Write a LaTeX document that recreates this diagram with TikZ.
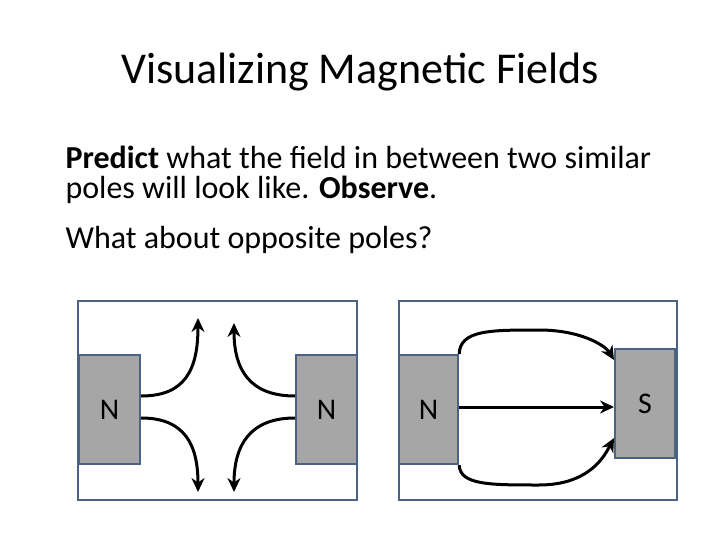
\documentclass[tikz,border=0pt]{standalone}
\usepackage{fontspec}
\setmainfont{Carlito}
\usetikzlibrary{arrows.meta}
\definecolor{edge}{HTML}{4A6283}
\definecolor{magfill}{HTML}{A6A6A6}
\begin{document}
\begin{tikzpicture}[x=1pt,y=-1pt,
  box/.style={draw=edge, line width=2.2pt},
  mag/.style={draw=edge, fill=magfill, line width=2.2pt, font=\fontsize{30}{34}\selectfont},
  txt/.style={anchor=west, font=\fontsize{32}{36}\selectfont},
  fl/.style={line width=3pt, -{Stealth[length=14pt,width=13pt]}}]
\useasboundingbox (0,0) rectangle (720,540);
\node (title) at (360,72) {\fontsize{44}{50}\selectfont Visualizing Magnetic Fields};
\node[txt] (l1) at (62,157) {\textbf{Predict} what the field in between two similar};
\node[txt] (l2) at (62,190) {poles will look like. \textbf{Observe}.};
\node[txt] (l3) at (62,240) {What about opposite poles?};
\node[box, minimum width=279pt, minimum height=199pt, anchor=north west] (b1) at (77,300) {};
\node[box, minimum width=278pt, minimum height=199pt, anchor=north west] (b2) at (398,300) {};
\node[mag, minimum width=61pt, minimum height=109pt, anchor=north west] (n1) at (78,354) {N};
\node[mag, minimum width=61pt, minimum height=109pt, anchor=north west] (n2) at (295,354) {N};
\node[mag, minimum width=59pt, minimum height=109pt, anchor=north west] (n3) at (398,354) {N};
\node[mag, minimum width=60pt, minimum height=109pt, anchor=north west] (s1) at (614,348) {S};
\coordinate (t1) at (198,318); \coordinate (t2) at (234,323);
\coordinate (t3) at (198,492); \coordinate (t4) at (234,492);
\draw[fl] (n1.east |- 0,396) .. controls (185,396) and (198,370) .. (t1);
\draw[fl] (n2.west |- 0,396) .. controls (250,396) and (234,370) .. (t2);
\draw[fl] (n1.east |- 0,418) .. controls (185,418) and (198,445) .. (t3);
\draw[fl] (n2.west |- 0,418) .. controls (250,418) and (234,445) .. (t4);
\draw[fl] (n3.north east) .. controls (460,330) and (490,330) .. (539,330) .. controls (580,330) and (605,345) .. (s1.west |- 0,360);
\draw[fl] (n3.east |- 0,407) -- (s1.west |- 0,407);
\draw[fl] (n3.south east) .. controls (460,485) and (490,485) .. (539,485) .. controls (590,485) and (605,455) .. (s1.west |- 0,438);
\end{tikzpicture}
\end{document}
